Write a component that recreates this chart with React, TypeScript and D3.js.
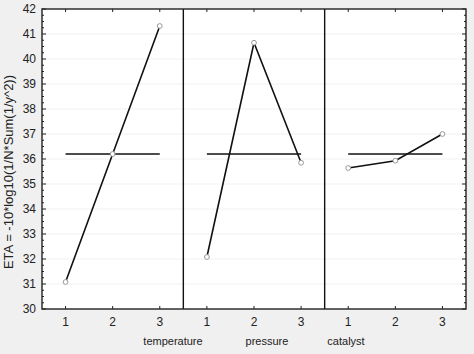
import React, { useRef, useEffect } from "react";
import * as d3 from "d3";

const factors = ["temperature", "pressure", "catalyst"];
const levels = ["1", "2", "3"];
const temperature = [31.08, 36.2, 41.32];
const pressure = [32.08, 40.65, 35.85];
const catalyst = [35.64, 35.93, 37.0];
const overallMean = 36.2;
const yTicks = [30, 31, 32, 33, 34, 35, 36, 37, 38, 39, 40, 41, 42];

const W = 474;
const H = 354;

const App = () => {
  const ref = useRef<SVGSVGElement>(null);

  useEffect(() => {
    const svg = d3.select(ref.current);
    svg.selectAll("*").remove();

    const margin = { top: 9, right: 8, bottom: 45, left: 42 };
    const width = W - margin.left - margin.right;
    const height = H - margin.top - margin.bottom;
    const font = "'Liberation Sans', Arial, sans-serif";

    svg.append("rect").attr("width", W).attr("height", H).attr("fill", "#f0f0f0");

    const g = svg.append("g").attr("transform", `translate(${margin.left},${margin.top})`);
    g.append("rect").attr("width", width).attr("height", height).attr("fill", "#fff");

    const y = d3.scaleLinear().domain([30, 42]).range([height, 0]);
    const panel = d3.scaleBand().domain(factors).range([0, width]);
    const x = d3.scaleBand().domain(levels).range([0, panel.bandwidth()]);

    // faint grid
    g.selectAll(".grid")
      .data(yTicks.slice(1, -1))
      .enter()
      .append("line")
      .attr("x1", 0)
      .attr("x2", width)
      .attr("y1", (d) => y(d))
      .attr("y2", (d) => y(d))
      .attr("stroke", "#f1f1f1")
      .attr("stroke-width", 1);

    // minor + major y ticks, inside, both sides
    const minor = d3.range(30, 42.001, 0.25);
    [0, width].forEach((xx, i) => {
      const dir = i === 0 ? 1 : -1;
      g.selectAll(null)
        .data(minor)
        .enter()
        .append("line")
        .attr("x1", xx)
        .attr("x2", (d) => xx + dir * (Math.abs(d - Math.round(d)) < 1e-6 ? 4 : 2))
        .attr("y1", (d) => y(d))
        .attr("y2", (d) => y(d))
        .attr("stroke", "#222");
    });

    g.selectAll(".ylab")
      .data(yTicks)
      .enter()
      .append("text")
      .attr("x", -6)
      .attr("y", (d) => y(d))
      .attr("dy", "0.35em")
      .attr("text-anchor", "end")
      .attr("font-family", font)
      .attr("font-size", 12)
      .attr("fill", "#222")
      .text((d) => d);

    const series = [temperature, pressure, catalyst];
    const line = d3
      .line<number>()
      .x((_, i) => x(levels[i])! + x.bandwidth() / 2)
      .y((d) => y(d));

    factors.forEach((f, k) => {
      const pg = g.append("g").attr("transform", `translate(${panel(f)},0)`);
      const cx = (l: string) => x(l)! + x.bandwidth() / 2;

      levels.forEach((l) => {
        pg.append("line").attr("x1", cx(l)).attr("x2", cx(l)).attr("y1", height).attr("y2", height - 3).attr("stroke", "#222");
        pg.append("line").attr("x1", cx(l)).attr("x2", cx(l)).attr("y1", 0).attr("y2", 3).attr("stroke", "#222");
        pg.append("text")
          .attr("x", cx(l))
          .attr("y", height + 17)
          .attr("text-anchor", "middle")
          .attr("font-family", font)
          .attr("font-size", 12)
          .attr("fill", "#222")
          .text(l);
      });

      // mean line
      pg.append("line")
        .attr("x1", cx(levels[0]))
        .attr("x2", cx(levels[2]))
        .attr("y1", y(overallMean))
        .attr("y2", y(overallMean))
        .attr("stroke", "#111")
        .attr("stroke-width", 1.4);

      pg.append("path")
        .datum(series[k])
        .attr("d", line)
        .attr("fill", "none")
        .attr("stroke", "#111")
        .attr("stroke-width", 1.6);

      pg.selectAll(".pt")
        .data(series[k])
        .enter()
        .append("circle")
        .attr("cx", (_, i) => cx(levels[i]))
        .attr("cy", (d) => y(d))
        .attr("r", 2.4)
        .attr("fill", "#fff")
        .attr("stroke", "#999");

      if (k > 0) {
        g.append("line")
          .attr("x1", panel(f)!)
          .attr("x2", panel(f)!)
          .attr("y1", 0)
          .attr("y2", height)
          .attr("stroke", "#111")
          .attr("stroke-width", 1.4);
      }
    });

    g.append("rect")
      .attr("width", width)
      .attr("height", height)
      .attr("fill", "none")
      .attr("stroke", "#222")
      .attr("stroke-width", 1.4);

    // factor names, placed like the original
    const namePos = [173, 267, 346];
    factors.forEach((f, k) => {
      svg.append("text")
        .attr("x", namePos[k])
        .attr("y", 345)
        .attr("text-anchor", "middle")
        .attr("font-family", font)
        .attr("font-size", 11)
        .attr("fill", "#222")
        .text(f);
    });

    svg.append("text")
      .attr("transform", `translate(13,172) rotate(-90)`)
      .attr("text-anchor", "middle")
      .attr("font-family", font)
      .attr("font-size", 13)
      .attr("fill", "#222")
      .text("ETA = -10*log10(1/N*Sum(1/y^2))");
  }, []);

  return (
    <svg
      ref={ref}
      width={W}
      height={H}
      style={{ position: "absolute", left: 0, top: 0, display: "block" }}
    />
  );
};

export default App;
